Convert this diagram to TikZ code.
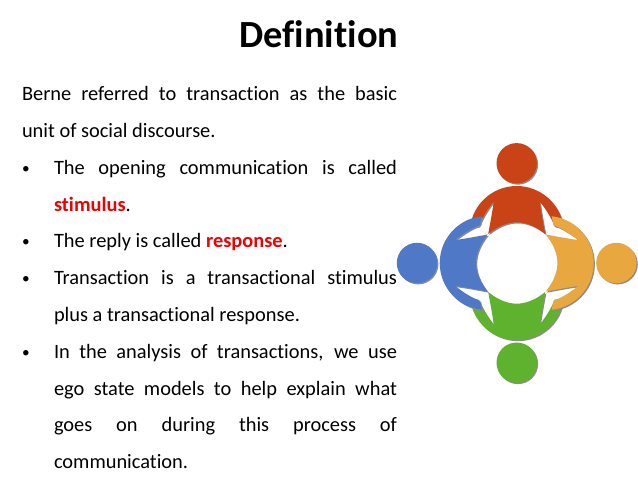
\documentclass[tikz,border=0pt]{standalone}
\usepackage{fontspec}
\setmainfont[Ligatures=NoCommon]{Carlito}
\definecolor{hdred}{HTML}{C94316}
\definecolor{hdblue}{HTML}{4F79C6}
\definecolor{hdorange}{HTML}{E9A83F}
\definecolor{hdgreen}{HTML}{5FB22E}
\definecolor{hdshadow}{HTML}{8C8C8C}
\definecolor{kwred}{HTML}{F00000}
\newlength{\punit}\setlength{\punit}{0.75pt}
\newcommand{\fitline}[1]{\makebox[375\punit][s]{#1}}
\newcommand{\fitsub}[1]{\makebox[343\punit][s]{#1}}
\newcommand{\personshape}{%
  (-46.74,34.9) arc[start angle=174,end angle=6,radius=47]
  -- (38,36.7) .. controls (35,44) and (30,53) .. (23,61.5)
  .. controls (24.5,50) and (26.5,40) .. (28.5,29)
  .. controls (20,36) and (10,40.7) .. (0,40.7)
  .. controls (-10,40.7) and (-20,36) .. (-28.5,29)
  .. controls (-26.5,40) and (-24.5,50) .. (-23,61.5)
  .. controls (-30,53) and (-35,44) .. (-38,36.7) -- cycle
}
\newcommand{\person}[2]{%
  \begin{scope}[shift={(516.7,215)},rotate=#1]
    \begin{scope}[shift={({1.2*cos(#1)-1.2*sin(#1)},{-1.2*cos(#1)-1.2*sin(#1)})}]
      \fill[hdshadow] \personshape;
      \fill[hdshadow] (0,99.7) circle[radius=20.2];
    \end{scope}
    \fill[#2] \personshape;
    \fill[#2] (0,99.7) circle[radius=20.2];
  \end{scope}
}
\tikzset{
  x=0.75pt,y=0.75pt,
  body/.style={anchor=base west,inner sep=0pt,outer sep=0pt,font=\fontsize{15.3pt}{17pt}\selectfont},
  bulletmark/.style={anchor=base west,inner sep=0pt,outer sep=0pt,font=\fontsize{11.5pt}{14pt}\selectfont},
}
\begin{document}
\begin{tikzpicture}
\useasboundingbox (0,0) rectangle (638,478);
\fill[white] (0,0) rectangle (638,478);
\node[anchor=base east,inner sep=0pt,font=\fontsize{28.8pt}{32pt}\selectfont\bfseries] (title) at (398.5,430) {Definition};
\node[body] (l1) at (22,377.5) {\fitline{Berne referred to transaction as the basic}};
\node[body] (l2) at (22,340.5) {unit of social discourse.};
\node[bulletmark] (b1) at (22,304) {•};
\node[body] (l3) at (54,303.5) {\fitsub{The opening communication is called}};
\node[body] (l4) at (54,266.5) {\textcolor{kwred}{\textbf{stimulus}}.};
\node[bulletmark] (b2) at (22,231) {•};
\node[body] (l5) at (54,230.5) {The reply is called \textcolor{kwred}{\textbf{response}}.};
\node[bulletmark] (b3) at (22,194) {•};
\node[body] (l6) at (54,193.5) {\fitsub{Transaction is a transactional stimulus}};
\node[body] (l7) at (54,156.5) {plus a transactional response.};
\node[bulletmark] (b4) at (22,120) {•};
\node[body] (l8) at (54,119.5) {\fitsub{In the analysis of transactions, we use}};
\node[body] (l9) at (54,82.5) {\fitsub{ego state models to help explain what}};
\node[body] (l10) at (54,46.5) {\fitsub{goes on during this process of}};
\node[body] (l11) at (54,9.5) {communication.};
\person{0}{hdred}
\person{180}{hdgreen}
\person{90}{hdblue}
\person{-90}{hdorange}
\end{tikzpicture}
\end{document}
